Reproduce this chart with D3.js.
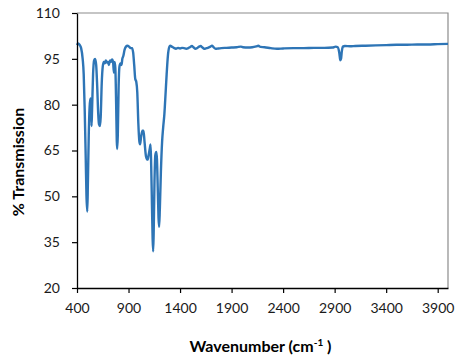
<!DOCTYPE html>
<html><head><meta charset="utf-8">
<script src="https://cdn.jsdelivr.net/npm/d3@7"></script>
<style>
html,body{margin:0;padding:0;background:#fff;}
svg{display:block;font-family:Lato,"Open Sans",sans-serif;}
</style></head>
<body><svg id="c" width="474" height="358"></svg>
<script>
const wavenumber = [400,410,425,440,455,465,475,485,492,500,506,514,522,530,536,541,546,556,566,576,586,596,606,614,622,630,640,650,660,670,680,690,700,710,720,730,740,750,758,765,772,780,786,790,796,804,812,822,832,840,850,862,875,890,905,920,935,945,955,965,975,985,995,1005,1012,1022,1035,1045,1055,1070,1085,1095,1108,1114,1120,1128,1134,1139,1144,1152,1160,1170,1176,1184,1191,1197,1204,1214,1226,1236,1248,1260,1270,1282,1295,1305,1320,1340,1360,1380,1400,1420,1440,1460,1480,1500,1515,1530,1550,1565,1585,1600,1615,1635,1650,1670,1690,1710,1725,1745,1770,1800,1850,1900,1950,1990,2010,2060,2100,2140,2160,2180,2220,2280,2340,2400,2500,2600,2700,2800,2880,2910,2930,2945,2955,2962,2970,2980,3000,3050,3100,3200,3300,3400,3500,3600,3700,3800,3900,4000];
const transmission = [99.5,100,99.6,98.5,95,90,78,62,50,45,55,70,79,82,81,73,78,90,94.5,95,93,86,77,73.5,73,76,87,92.5,94,93.5,94.5,93.8,94,93,94.5,94,94.8,94,90.5,94,92,80,68,65.5,70,86,92.5,93.5,93,95,96,98,99,99.3,99,98.5,98.5,97,93,88.5,87.5,84,74,68,67,69.5,71.5,71.5,68,63,62,63.5,66,67,60,46,36,32,38,55,63.5,64.5,62,52,43,40,46,58,68,72.5,77,84,90,96,98.8,99.3,99,98.6,98.3,98.6,98.4,98.6,98.5,98.3,98.5,98.9,99.2,98.8,98.3,98.5,99,99.2,98.8,98.3,98.4,98.6,98.9,99.3,98.8,98.3,98.4,98.5,98.6,98.7,98.8,99,98.8,98.7,98.8,99.1,99.3,98.9,98.8,98.5,98.3,98.4,98.5,98.5,98.6,98.6,98.7,99,98.8,97,94.5,95,97.5,99,99.2,99.1,99.2,99.3,99.4,99.5,99.6,99.6,99.7,99.7,99.8,99.9];
const xTicks = [400,900,1400,1900,2400,2900,3400,3900];
const yTicks = [20,35,50,65,80,95,110];
const xTitle = "Wavenumber (cm";
const xTitleSup = "-1";
const xTitleEnd = " )";
const yTitle = "% Transmission";

const svg = d3.select("#c");
const L = 77, R = 448, T = 13, B = 288;
const x = d3.scaleLinear().domain([400,4000]).range([L,R]);
const y = d3.scaleLinear().domain([20,110]).range([B,T]);

svg.append("path").attr("d",`M${L},${T}H${R}V${B}`).attr("fill","none").attr("stroke","#8c8c8c").attr("stroke-width",1.2);

const data = wavenumber.map((w,i)=>({w, t: transmission[i]}));
svg.append("path").datum(data)
  .attr("fill","none").attr("stroke","#2e75b6").attr("stroke-width",2.4)
  .attr("stroke-linejoin","round")
  .attr("d", d3.line().x(d=>x(d.w)).y(d=>y(d.t)).curve(d3.curveMonotoneX));

const xa = svg.append("g").attr("transform",`translate(0,${B})`)
  .call(d3.axisBottom(x).tickValues(xTicks).tickSize(5).tickSizeOuter(0).tickPadding(10).tickFormat(d3.format("d")));
const ya = svg.append("g").attr("transform",`translate(${L},0)`)
  .call(d3.axisLeft(y).tickValues(yTicks).tickSize(5).tickSizeOuter(0).tickPadding(12).tickFormat(d3.format("d")));
[xa,ya].forEach(g=>{
  g.select(".domain").attr("stroke","#000").attr("stroke-width",1.3);
  g.selectAll(".tick line").attr("stroke","#000").attr("stroke-width",1.2);
  g.selectAll(".tick text").attr("fill","#1a1a1a").style("font-size","14px").style("font-family","Lato,sans-serif");
});

const xt = svg.append("text").attr("x",(L+R)/2-2).attr("y",352).attr("text-anchor","middle")
  .style("font-size","16px").style("font-weight","bold").attr("fill","#000");
xt.append("tspan").text(xTitle);
xt.append("tspan").attr("dy",-6).style("font-size","10px").text(xTitleSup);
xt.append("tspan").attr("dy",6).text(xTitleEnd);

svg.append("text").attr("transform","translate(24,162) rotate(-90)").attr("text-anchor","middle")
  .style("font-size","16px").style("font-weight","bold").attr("fill","#000").text(yTitle);
</script></body></html>
